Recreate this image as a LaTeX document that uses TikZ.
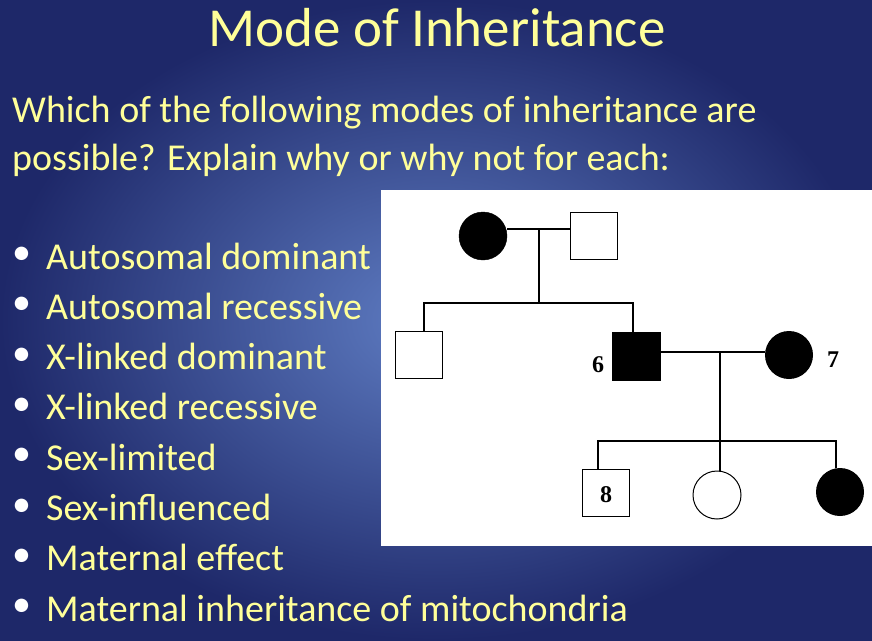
\documentclass[tikz,border=0pt]{standalone}
\usepackage{fontspec}
\setmainfont{Carlito}
\newfontfamily\tnr{Liberation Serif}
\definecolor{ylw}{HTML}{FFFF99}
\begin{document}
\begin{tikzpicture}[x=1pt,y=-1pt,
 txt/.style={text=ylw,anchor=west,inner sep=0pt,font=\fontsize{38}{42}\selectfont},
 ln/.style={draw=black,line width=1.3pt},
 lbl/.style={font=\tnr\bfseries\fontsize{24}{26}\selectfont,inner sep=0pt}]
\shade[inner color={rgb,255:red,95;green,125;blue,195},outer color={rgb,255:red,30;green,40;blue,105},shading=radial] (0,0) rectangle (872,640);
\useasboundingbox (0,0) rectangle (872,640);
\node[text=ylw,font=\fontsize{55}{60}\selectfont,inner sep=0pt] (title) at (437,28) {Mode of Inheritance};
\node[txt] (q1) at (12,113) {Which of the following modes of inheritance are};
\node[txt] (q2) at (12,160) {possible? Explain why or why not for each:};
\foreach \t [count=\i] in {Autosomal dominant,Autosomal recessive,X-linked dominant,X-linked recessive,Sex-limited,Sex-influenced,Maternal effect,Maternal inheritance of mitochondria}{
 \node[txt] (b\i) at (46,{256+50.3*(\i-1)}) {\t};
 \node[txt,text=white] (d\i) at (12,{256+50.3*(\i-1)}) {•};
}
\fill[white] (381,190) rectangle (872,546);
\node[circle,fill=black,draw=black,minimum size=48pt,inner sep=0pt] (m1) at (483,236) {};
\node[draw=black,line width=1pt,fill=white,minimum size=47pt,inner sep=0pt] (f1) at (594,236) {};
\coordinate (c1) at (539,229);
\draw[ln] (m1.east|-c1) -- (f1.west|-c1);
\coordinate (s1) at (539,303);
\draw[ln] (c1) -- (s1);
\node[draw=black,line width=1pt,minimum size=47pt,inner sep=0pt] (a2) at (419,355) {};
\node[draw=black,fill=black,minimum size=48pt,inner sep=0pt] (p6) at (636,356) {};
\node[circle,fill=black,minimum size=48pt,inner sep=0pt] (p7) at (789,355) {};
\draw[ln] (424,331) -- (424,303) -- (633,303) -- (633,332);
\node[lbl] (l6) at (598,365) {6};
\node[lbl] (l7) at (833,360) {7};
\draw[ln] (p6.east|-0,352) -- (p7.west|-0,352);
\draw[ln] (720,352) -- (720,441);
\node[draw=black,line width=1pt,minimum size=47pt,inner sep=0pt] (p8) at (606,493) {};
\node[lbl] (l8) at (606,495) {8};
\node[circle,draw=black,line width=1pt,minimum size=48pt,inner sep=0pt] (c9) at (717,495) {};
\node[circle,fill=black,minimum size=48pt,inner sep=0pt] (c10) at (840,492) {};
\draw[ln] (598,469) -- (598,441) -- (836,441) -- (836,468);
\draw[ln] (720,441) -- (720,471);
\end{tikzpicture}
\end{document}
